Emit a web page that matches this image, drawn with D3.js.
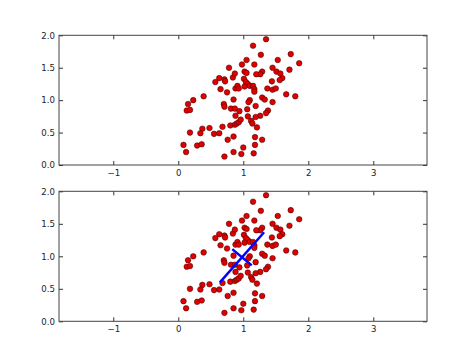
<!DOCTYPE html>
<html>
<head>
  <meta charset="utf-8">
  <script src="https://d3js.org/d3.v7.min.js"></script>
  <style>
    body { margin: 0; background: white; }
    svg { display: block; }
    .tick text { font-family: "DejaVu Sans", sans-serif; font-size: 8.6px; fill: #222; }
    .tick line { stroke: #333; stroke-width: 1; }
  </style>
</head>
<body>
<svg id="canvas" width="474" height="357"></svg>
<script>
  // scatter values
  const xs = [0.78, 0.57, 0.63, 0.71, 0.72, 0.84, 0.87, 0.65, 0.75, 0.88,
              0.91, 0.93, 0.15, 0.23, 0.39, 0.13, 0.18, 0.70, 0.71, 0.85,
              0.81, 0.87, 0.88, 0.94, 0.18, 0.37, 0.34, 0.48, 0.55, 0.63,
              0.68, 0.80, 0.87, 0.90, 0.93, 0.85, 0.76, 0.08, 0.12, 0.29,
              0.36, 0.71, 0.85, 1.35, 1.15, 1.27, 1.73, 1.53, 1.86, 0.98,
              1.05, 1.17, 1.45, 1.51, 1.57, 1.71, 1.60, 1.56, 1.44, 1.29,
              1.26, 1.20, 1.02, 1.05, 1.01, 1.04, 1.07, 1.02, 1.10, 1.15,
              1.17, 1.17, 1.37, 1.45, 1.50, 1.66, 1.80, 1.29, 1.33, 1.45,
              1.10, 1.08, 1.19, 1.06, 1.38, 1.35, 1.26, 1.19, 1.07, 0.96,
              1.12, 1.14, 1.21, 1.18, 1.29, 1.18, 1.00, 0.97, 1.16];
  const ys = [1.50, 1.28, 1.34, 1.32, 1.29, 1.35, 1.41, 1.17, 1.12, 1.18,
              1.22, 1.18, 0.94, 1.00, 1.06, 0.84, 0.85, 0.94, 0.90, 1.01,
              0.87, 0.87, 0.76, 0.83, 0.50, 0.56, 0.49, 0.57, 0.48, 0.49,
              0.59, 0.61, 0.62, 0.64, 0.66, 0.44, 0.39, 0.31, 0.20, 0.30,
              0.32, 0.13, 0.20, 1.94, 1.84, 1.70, 1.71, 1.62, 1.57, 1.55,
              1.62, 1.55, 1.50, 1.44, 1.41, 1.47, 1.34, 1.31, 1.29, 1.44,
              1.40, 1.40, 1.44, 1.42, 1.33, 1.28, 1.25, 1.21, 1.22, 1.22,
              1.17, 1.13, 1.18, 1.16, 1.18, 1.09, 1.06, 1.04, 1.01, 0.97,
              1.00, 0.97, 0.91, 0.86, 0.84, 0.80, 0.76, 0.74, 0.75, 0.70,
              0.68, 0.64, 0.58, 0.43, 0.39, 0.31, 0.27, 0.17, 0.18];

  // principal axes drawn in the lower panel: [x1, y1, x2, y2]
  const axisLines = [[0.64, 0.60, 1.32, 1.37],
                     [0.83, 1.11, 1.13, 0.86]];

  const xTicks = [-1, 0, 1, 2, 3];
  const yTicks = [0.0, 0.5, 1.0, 1.5, 2.0];
  const xDomain = [-1.835, 3.826];
  const yDomain = [0, 2];

  const svg = d3.select("#canvas");
  const left = 59, right = 427;
  const panels = [{ top: 35.3, bottom: 165, lines: false },
                  { top: 191.3, bottom: 321.3, lines: true }];

  const x = d3.scaleLinear().domain(xDomain).range([left, right]);
  const fmtX = d => d < 0 ? "\u2212" + Math.abs(d) : String(d);

  panels.forEach(drawPanel);

  function drawPanel(p) {
    const y = d3.scaleLinear().domain(yDomain).range([p.bottom, p.top]);
    const g = svg.append("g");

    g.append("g")
        .attr("transform", `translate(0,${p.bottom})`)
        .call(d3.axisBottom(x).tickValues(xTicks).tickFormat(fmtX).tickSize(-4).tickPadding(4.8))
        .call(a => a.select(".domain").remove());
    g.append("g")
        .attr("transform", `translate(0,${p.top})`)
        .call(d3.axisTop(x).tickValues(xTicks).tickFormat("").tickSize(-4))
        .call(a => a.select(".domain").remove());
    g.append("g")
        .attr("transform", `translate(${left},0)`)
        .call(d3.axisLeft(y).tickValues(yTicks).tickFormat(d3.format(".1f")).tickSize(-4).tickPadding(4))
        .call(a => a.select(".domain").remove());
    g.append("g")
        .attr("transform", `translate(${right},0)`)
        .call(d3.axisRight(y).tickValues(yTicks).tickFormat("").tickSize(-4))
        .call(a => a.select(".domain").remove());

    g.selectAll("circle")
      .data(xs.map((v, i) => [v, ys[i]]))
      .join("circle")
        .attr("cx", d => x(d[0]))
        .attr("cy", d => y(d[1]))
        .attr("r", 2.8)
        .attr("fill", "#e00000")
        .attr("stroke", "#300")
        .attr("stroke-width", 0.5);

    if (p.lines) {
      g.selectAll("line.pc")
        .data(axisLines)
        .join("line")
          .attr("class", "pc")
          .attr("x1", d => x(d[0])).attr("y1", d => y(d[1]))
          .attr("x2", d => x(d[2])).attr("y2", d => y(d[3]))
          .attr("stroke", "#0000ff")
          .attr("stroke-width", 2.5);
    }

    g.append("rect")
        .attr("x", left).attr("y", p.top)
        .attr("width", right - left).attr("height", p.bottom - p.top)
        .attr("fill", "none")
        .attr("stroke", "#444")
        .attr("stroke-width", 1);
  }
</script>
</body>
</html>
